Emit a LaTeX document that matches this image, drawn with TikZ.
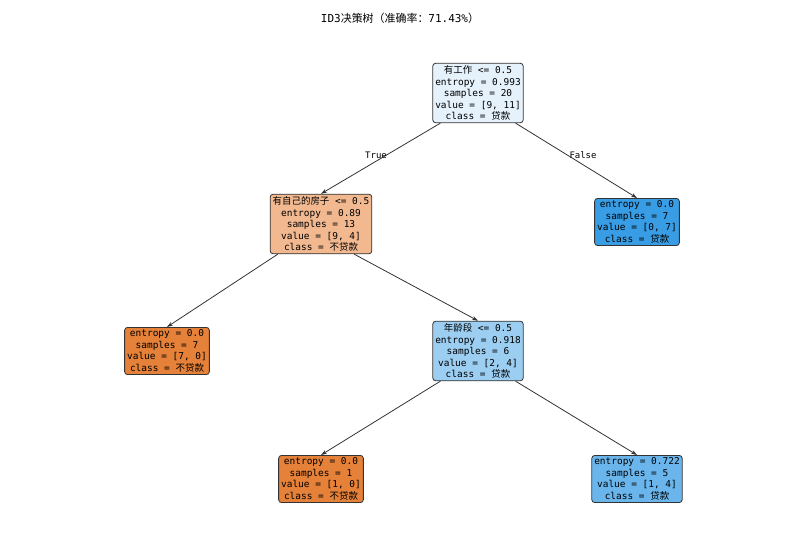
\documentclass[tikz,border=0pt]{standalone}
\usepackage{fontspec}
\setmonofont{DejaVu Sans Mono}
\newfontfamily\cjk{Noto Sans CJK SC}
\newcommand{\zh}[1]{{\cjk #1}}
\usetikzlibrary{arrows.meta}
\begin{document}
\begin{tikzpicture}[x=1bp,y=-1bp,
  tn/.style={draw=black!80,rounded corners=3bp,align=center,font=\ttfamily\fontsize{9.5}{11.5}\selectfont,inner sep=2.5bp,line width=0.8bp},
  ed/.style={-{Stealth[length=6bp,width=4bp]},black!80,line width=0.8bp},
  el/.style={font=\ttfamily\fontsize{9}{11}\selectfont}]
\useasboundingbox (0,0) rectangle (800,555);
\node[font=\ttfamily\fontsize{11}{13}\selectfont] (title) at (400,18) {ID3\zh{决策树（准确率：}71.43\%\zh{）}};
\node[tn,fill={rgb,255:red,229;green,242;blue,252}] (root) at (478,93) {\zh{有工作} <= 0.5\\entropy = 0.993\\samples = 20\\value = [9, 11]\\class = \zh{贷款}};
\node[tn,fill={rgb,255:red,242;green,185;blue,145}] (l) at (321,224) {\zh{有自己的房子} <= 0.5\\entropy = 0.89\\samples = 13\\value = [9, 4]\\class = \zh{不贷款}};
\node[tn,fill={rgb,255:red,57;green,157;blue,229}] (r) at (637,222) {entropy = 0.0\\samples = 7\\value = [0, 7]\\class = \zh{贷款}};
\node[tn,fill={rgb,255:red,229;green,129;blue,57}] (ll) at (167,351) {entropy = 0.0\\samples = 7\\value = [7, 0]\\class = \zh{不贷款}};
\node[tn,fill={rgb,255:red,156;green,206;blue,242}] (lr) at (478,351) {\zh{年龄段} <= 0.5\\entropy = 0.918\\samples = 6\\value = [2, 4]\\class = \zh{贷款}};
\node[tn,fill={rgb,255:red,229;green,129;blue,57}] (lrl) at (321,479) {entropy = 0.0\\samples = 1\\value = [1, 0]\\class = \zh{不贷款}};
\node[tn,fill={rgb,255:red,106;green,182;blue,236}] (lrr) at (637,479) {entropy = 0.722\\samples = 5\\value = [1, 4]\\class = \zh{贷款}};
\draw[ed] (root.south west) ++(8,0) coordinate (a1) -- (l.north);
\draw[ed] (root.south east) ++(-8,0) coordinate (a2) -- (r.north);
\draw[ed] (l.south west) ++(8,0) -- (ll.north);
\draw[ed] (l.south east) ++(-18,0) -- (lr.north);
\draw[ed] (lr.south west) ++(8,0) -- (lrl.north);
\draw[ed] (lr.south east) ++(-8,0) -- (lrr.north);
\node[el] (t) at (376,155) {True};
\node[el] (f) at (583,155) {False};
\end{tikzpicture}
\end{document}
